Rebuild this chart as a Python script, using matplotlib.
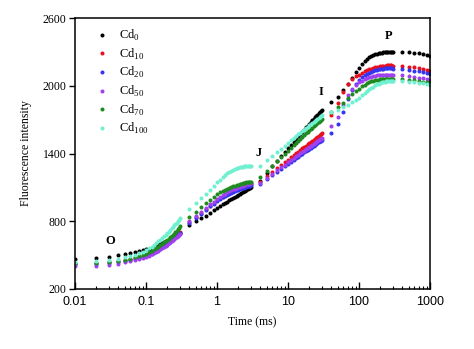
import matplotlib
matplotlib.use("Agg")
import matplotlib.pyplot as plt
from matplotlib.ticker import LogLocator, FixedLocator, NullFormatter, FixedFormatter

# ---- time axis (ms) ----
t_a = [0.01, 0.02, 0.03, 0.04, 0.05, 0.06, 0.07, 0.08, 0.09, 0.10,
       0.11, 0.12, 0.13, 0.14, 0.15, 0.16, 0.17, 0.18, 0.19, 0.20,
       0.21, 0.22, 0.23, 0.24, 0.25, 0.26, 0.27, 0.28, 0.29, 0.30]
t_b = [0.4, 0.5, 0.6, 0.7, 0.8, 0.9, 1.0, 1.1, 1.2, 1.3, 1.4, 1.5, 1.6, 1.7,
       1.8, 1.9, 2.0, 2.1, 2.2, 2.3, 2.4, 2.5, 2.6, 2.7, 2.8, 2.9, 3.0]
t_c = [4, 5, 6, 7, 8, 9, 10, 11, 12, 13, 14, 15, 16, 17, 18, 19, 20,
       21, 22, 23, 24, 25, 26, 27, 28, 29, 30]
t_d = [40, 50, 60, 70, 80, 90, 100, 110, 120, 130, 140, 150, 160, 170, 180,
       190, 200, 210, 220, 230, 240, 250, 260, 270, 280, 290, 300]
t_e = [400, 500, 600, 700, 800, 900, 1000]
time_ms = t_a + t_b + t_c + t_d + t_e

# ---- fluorescence series ----
cd0 = ([468, 475, 485, 497, 508, 518, 527, 535, 543, 550, 558, 566, 574, 582, 590,
        598, 606, 614, 621, 628, 635, 642, 649, 656, 663, 670, 677, 684, 691, 698]
       + [770, 800, 825, 850, 875, 900, 920, 935, 950, 963, 975, 986, 996, 1006,
          1015, 1024, 1033, 1041, 1049, 1057, 1064, 1071, 1078, 1085, 1091, 1097, 1103]
       + [1160, 1230, 1286, 1335, 1376, 1413, 1447, 1476, 1503, 1529, 1552, 1574, 1594,
          1612, 1631, 1648, 1663, 1678, 1693, 1707, 1720, 1733, 1745, 1757, 1769, 1779, 1790]
       + [1853, 1900, 1960, 2015, 2070, 2120, 2160, 2192, 2218, 2238, 2252, 2264, 2273,
          2280, 2286, 2290, 2293, 2295, 2297, 2298, 2299, 2300, 2300, 2301, 2301, 2301, 2300]
       + [2300, 2298, 2294, 2289, 2283, 2276, 2268])
cd10 = ([425, 428, 436, 445, 455, 464, 473, 482, 491, 500, 511, 522, 533, 544, 555,
         566, 577, 588, 598, 608, 618, 628, 638, 648, 657, 666, 675, 684, 693, 702]
        + [795, 838, 876, 910, 939, 964, 986, 1004, 1019, 1032, 1043, 1053, 1062, 1070,
           1077, 1083, 1089, 1094, 1099, 1103, 1107, 1111, 1114, 1117, 1120, 1123, 1126]
        + [1150, 1198, 1236, 1269, 1297, 1323, 1346, 1366, 1384, 1402, 1417, 1433, 1446,
           1459, 1471, 1483, 1494, 1504, 1514, 1524, 1532, 1541, 1549, 1557, 1565, 1573, 1580]
        + [1738, 1850, 1945, 2020, 2060, 2085, 2100, 2115, 2128, 2138, 2146, 2153, 2159,
           2164, 2168, 2171, 2174, 2176, 2178, 2179, 2180, 2181, 2181, 2181, 2181, 2180, 2180]
        + [2176, 2170, 2163, 2155, 2147, 2138, 2128])
cd20 = ([418, 420, 428, 437, 447, 456, 465, 474, 483, 492, 503, 514, 525, 536, 547,
         558, 569, 580, 590, 600, 610, 620, 630, 640, 649, 658, 667, 676, 685, 694]
        + [785, 828, 867, 901, 931, 956, 978, 996, 1011, 1024, 1035, 1045, 1054, 1062,
           1069, 1075, 1081, 1086, 1091, 1095, 1099, 1103, 1106, 1109, 1112, 1115, 1118]
        + [1130, 1173, 1208, 1238, 1264, 1287, 1307, 1326, 1343, 1358, 1373, 1386, 1399,
           1410, 1421, 1432, 1442, 1451, 1460, 1469, 1477, 1485, 1492, 1499, 1507, 1513, 1520]
        + [1578, 1660, 1764, 1880, 1960, 2020, 2055, 2078, 2095, 2108, 2118, 2126, 2133,
           2138, 2142, 2146, 2149, 2151, 2153, 2154, 2155, 2155, 2155, 2155, 2155, 2154, 2153]
        + [2148, 2142, 2136, 2129, 2121, 2113, 2105])
cd50 = ([405, 408, 416, 425, 435, 445, 455, 465, 475, 485, 496, 507, 518, 529, 540,
         551, 562, 573, 583, 593, 603, 613, 623, 633, 642, 651, 660, 669, 678, 687]
        + [800, 845, 885, 920, 950, 975, 998, 1016, 1031, 1044, 1055, 1065, 1074, 1082,
           1089, 1095, 1101, 1106, 1111, 1115, 1119, 1123, 1126, 1129, 1132, 1135, 1138]
        + [1140, 1184, 1220, 1251, 1277, 1301, 1322, 1341, 1358, 1374, 1389, 1403, 1416,
           1427, 1439, 1450, 1460, 1469, 1478, 1488, 1496, 1504, 1512, 1519, 1526, 1533, 1540]
        + [1640, 1720, 1830, 1920, 1975, 2005, 2030, 2045, 2058, 2068, 2076, 2082, 2087,
           2091, 2094, 2096, 2098, 2099, 2100, 2100, 2100, 2100, 2100, 2100, 2099, 2099, 2098]
        + [2092, 2087, 2081, 2074, 2067, 2060, 2052])
cd70 = ([430, 432, 440, 450, 460, 470, 480, 490, 500, 512, 524, 537, 550, 563, 576,
         588, 600, 612, 624, 636, 647, 658, 669, 680, 691, 702, 715, 728, 742, 756]
        + [840, 885, 925, 960, 990, 1015, 1038, 1055, 1068, 1079, 1088, 1096, 1103, 1109,
           1115, 1120, 1125, 1129, 1133, 1136, 1139, 1142, 1144, 1146, 1148, 1150, 1152]
        + [1190, 1248, 1294, 1334, 1368, 1399, 1427, 1451, 1473, 1494, 1513, 1532, 1548,
           1563, 1578, 1592, 1605, 1618, 1630, 1642, 1652, 1663, 1673, 1682, 1692, 1701, 1710]
        + [1770, 1810, 1850, 1890, 1925, 1955, 1975, 1995, 2010, 2022, 2032, 2040, 2045,
           2049, 2053, 2056, 2058, 2060, 2061, 2062, 2063, 2063, 2063, 2063, 2063, 2062, 2062]
        + [2058, 2053, 2048, 2042, 2036, 2030, 2024])
cd100 = ([440, 445, 455, 468, 480, 492, 505, 518, 530, 545, 560, 576, 592, 607, 622,
          637, 652, 667, 681, 695, 709, 723, 737, 750, 763, 776, 789, 801, 813, 825]
         + [905, 960, 1005, 1045, 1080, 1115, 1145, 1170, 1190, 1208, 1224, 1237, 1248, 1257,
            1264, 1270, 1275, 1279, 1282, 1284, 1286, 1287, 1288, 1288, 1289, 1289, 1290]
         + [1290, 1340, 1380, 1415, 1444, 1471, 1495, 1516, 1535, 1553, 1570, 1586, 1600,
            1613, 1626, 1638, 1650, 1660, 1671, 1681, 1690, 1700, 1708, 1716, 1725, 1732, 1740]
         + [1764, 1785, 1810, 1830, 1855, 1875, 1895, 1915, 1935, 1953, 1968, 1982, 1994,
            2004, 2013, 2020, 2026, 2031, 2035, 2038, 2040, 2042, 2043, 2044, 2044, 2044, 2044]
         + [2040, 2036, 2031, 2026, 2021, 2016, 2011])

series_labels = [r"Cd$_{\mathregular{0}}$", r"Cd$_{\mathregular{10}}$", r"Cd$_{\mathregular{20}}$",
                 r"Cd$_{\mathregular{50}}$", r"Cd$_{\mathregular{70}}$", r"Cd$_{\mathregular{100}}$"]
series_values = [cd0, cd10, cd20, cd50, cd70, cd100]
series_colors = ["#000000", "#e8101e", "#3535f0", "#a040f0", "#1f8a1f", "#70f0d0"]

y_ticks = [200, 800, 1400, 2000, 2600]
x_ticks = [0.01, 0.1, 1, 10, 100, 1000]
x_tick_labels = ["0.01", "0.1", "1", "10", "100", "1000"]

phase_labels = ["O", "J", "I", "P"]
phase_pos = [(0.031, 627), (3.8, 1409), (29, 1942), (263, 2440)]

plt.rcParams["font.family"] = ["Liberation Serif", "DejaVu Serif"]
plt.rcParams["mathtext.fontset"] = "custom"
plt.rcParams["mathtext.rm"] = "Liberation Serif"

fig = plt.figure(figsize=(4.74, 3.49), dpi=100)
ax = fig.add_axes([0.158, 0.172, 0.749, 0.776])

for lab, vals, col in zip(series_labels, series_values, series_colors):
    ax.plot(time_ms, vals, linestyle="none", marker="o", markersize=2.9,
            markeredgewidth=0, color=col, label=lab)

ax.set_xscale("log")
ax.set_xlim(0.01, 1000)
ax.set_ylim(200, 2600)
ax.set_yticks(y_ticks)
ax.yaxis.set_minor_locator(FixedLocator([]))
ax.xaxis.set_major_locator(FixedLocator(x_ticks))
ax.xaxis.set_major_formatter(FixedFormatter(x_tick_labels))
ax.xaxis.set_minor_locator(LogLocator(base=10, subs=range(2, 10)))
ax.xaxis.set_minor_formatter(NullFormatter())

ax.tick_params(axis="x", which="major", direction="in", length=5, width=1, pad=5)
ax.tick_params(axis="x", which="minor", direction="in", length=2.5, width=0.8)
ax.tick_params(axis="y", which="major", direction="out", length=4, width=1, pad=2)
for lbl in ax.get_xticklabels():
    lbl.set_fontfamily("Liberation Sans")
    lbl.set_fontsize(9)
for lbl in ax.get_yticklabels():
    lbl.set_fontsize(8.5)
for s in ax.spines.values():
    s.set_linewidth(1.1)

ax.set_xlabel("Time (ms)", fontsize=8.5, labelpad=6)
ax.set_ylabel("Fluorescence intensity", fontsize=8.5, labelpad=8)

for txt, (px, py) in zip(phase_labels, phase_pos):
    ax.text(px, py, txt, fontsize=9, fontweight="bold", ha="center", va="center")

ax.legend(loc="upper left", frameon=False, fontsize=9, handletextpad=0.9,
          labelspacing=0.28, markerscale=1.0, handlelength=1.0,
          borderaxespad=0.4, bbox_to_anchor=(0.03, 1.0))

fig.savefig("out.png", dpi=100)
